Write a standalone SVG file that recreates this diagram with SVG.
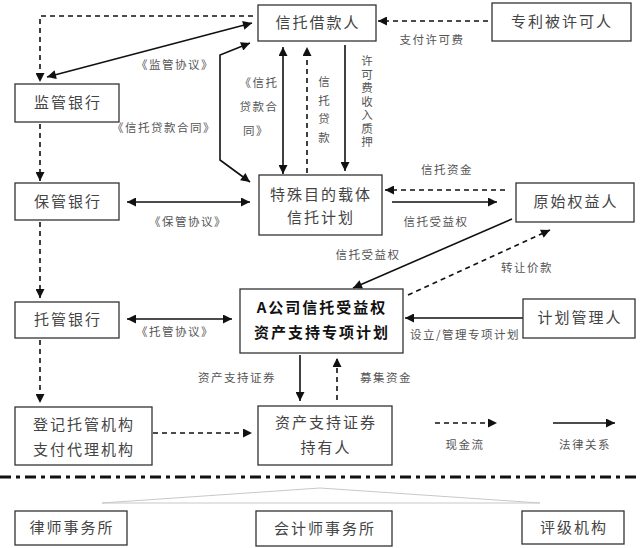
<svg xmlns="http://www.w3.org/2000/svg" width="640" height="548" viewBox="0 0 640 548">
<defs>
<style>
.box{fill:#fff;stroke:#333;stroke-width:1.3}
.t{font-family:"Noto Sans CJK SC","Liberation Sans",sans-serif;font-size:15px;fill:#444;text-anchor:middle;letter-spacing:2px}
.tb{font-family:"Noto Sans CJK SC","Liberation Sans",sans-serif;font-size:15px;fill:#111;font-weight:bold;text-anchor:middle;letter-spacing:2px}
.l{font-family:"Noto Sans CJK SC","Liberation Sans",sans-serif;font-size:11.5px;fill:#555;text-anchor:middle;letter-spacing:1.5px}
.v{font-family:"Noto Sans CJK SC","Liberation Sans",sans-serif;font-size:11.5px;fill:#555;writing-mode:vertical-rl;text-anchor:start}
.s{fill:none;stroke:#111;stroke-width:1.6}
.d{fill:none;stroke:#111;stroke-width:1.6;stroke-dasharray:5 4}
</style>
<marker id="ah" viewBox="0 0 10 10" refX="10" refY="5" markerWidth="10" markerHeight="9" markerUnits="userSpaceOnUse" orient="auto-start-reverse"><path d="M0,0 L10,5 L0,10 z" fill="#111"/></marker>
</defs>
<rect width="640" height="548" fill="#fff"/>

<g id="connectors">
<path class="d" d="M253,16 H40 V82" marker-end="url(#ah)"/>
<line class="s" x1="47" y1="77" x2="252" y2="23" marker-start="url(#ah)" marker-end="url(#ah)"/>
<path class="s" d="M250,43 L220,55 L220,160 L250,182" marker-start="url(#ah)" marker-end="url(#ah)"/>
<line class="s" x1="283" y1="47" x2="283" y2="174" marker-start="url(#ah)" marker-end="url(#ah)"/>
<line class="d" x1="307" y1="173" x2="307" y2="47" marker-end="url(#ah)"/>
<line class="s" x1="345" y1="45" x2="345" y2="171" marker-end="url(#ah)"/>
<line class="d" x1="488" y1="21" x2="378" y2="21" marker-end="url(#ah)"/>
<line class="d" x1="40" y1="124" x2="40" y2="181" marker-end="url(#ah)"/>
<line class="s" x1="127" y1="202" x2="250" y2="202" marker-start="url(#ah)" marker-end="url(#ah)"/>
<line class="d" x1="505" y1="190" x2="385" y2="190" marker-end="url(#ah)"/>
<line class="s" x1="392" y1="202" x2="497" y2="202" marker-end="url(#ah)"/>
<line class="s" x1="512" y1="219" x2="353" y2="288" marker-end="url(#ah)"/>
<line class="d" x1="408" y1="295" x2="550" y2="230" marker-end="url(#ah)"/>
<line class="s" x1="523" y1="318" x2="405" y2="318" marker-end="url(#ah)"/>
<line class="d" x1="40" y1="222" x2="40" y2="298" marker-end="url(#ah)"/>
<line class="s" x1="127" y1="319" x2="232" y2="319" marker-start="url(#ah)" marker-end="url(#ah)"/>
<line class="d" x1="40" y1="340" x2="40" y2="403" marker-end="url(#ah)"/>
<line class="s" x1="300" y1="355" x2="300" y2="401" marker-end="url(#ah)"/>
<line class="d" x1="337" y1="400" x2="337" y2="358" marker-end="url(#ah)"/>
<line class="d" x1="153" y1="433" x2="252" y2="433" marker-end="url(#ah)"/>
<line class="d" x1="435" y1="423" x2="497" y2="423" marker-end="url(#ah)"/>
<line class="s" x1="553" y1="423" x2="615" y2="423" marker-end="url(#ah)"/>
</g>

<g id="labels">
<text class="l" x="175" y="69">《监管协议》</text>
<text class="l" x="164" y="132">《信托贷款合同》</text>
<text class="l" x="259" y="87">《信托</text>
<text class="l" x="259" y="111">贷款合</text>
<text class="l" x="256" y="135">同》</text>
<text class="v" x="324" y="76" style="letter-spacing:7px">信托贷款</text>
<text class="v" x="367" y="55" style="letter-spacing:2px">许可费收入质押</text>
<text class="l" x="432" y="44">支付许可费</text>
<text class="l" x="188" y="226">《保管协议》</text>
<text class="l" x="447" y="174">信托资金</text>
<text class="l" x="436" y="226">信托受益权</text>
<text class="l" x="368" y="259">信托受益权</text>
<text class="l" x="527" y="272">转让价款</text>
<text class="l" x="465" y="339">设立/管理专项计划</text>
<text class="l" x="175" y="336">《托管协议》</text>
<text class="l" x="237" y="382">资产支持证券</text>
<text class="l" x="386" y="382">募集资金</text>
<text class="l" x="465" y="449">现金流</text>
<text class="l" x="585" y="449">法律关系</text>
</g>

<g id="n_jiekuan"><rect class="box" x="258" y="5" width="118" height="36"/><text class="t" x="318" y="28">信托借款人</text></g>
<g id="n_zhuanli"><rect class="box" x="492" y="3" width="139" height="38"/><text class="t" x="562" y="27">专利被许可人</text></g>
<g id="n_jianguan"><rect class="box" x="15" y="84" width="104" height="38"/><text class="t" x="68" y="108">监管银行</text></g>
<g id="n_baoguan"><rect class="box" x="15" y="183" width="104" height="37"/><text class="t" x="68" y="207">保管银行</text></g>
<g id="n_spv"><rect class="box" x="259" y="175" width="123" height="60"/><text class="t" x="321" y="200">特殊目的载体</text><text class="t" x="321" y="223">信托计划</text></g>
<g id="n_yuanshi"><rect class="box" x="516" y="183" width="118" height="39"/><text class="t" x="576" y="207">原始权益人</text></g>
<g id="n_tuoguan"><rect class="box" x="15" y="302" width="104" height="36"/><text class="t" x="68" y="325">托管银行</text></g>
<g id="n_plan"><rect class="box" x="240" y="289" width="163" height="64"/><text class="tb" x="322" y="313">A公司信托受益权</text><text class="tb" x="322" y="338">资产支持专项计划</text></g>
<g id="n_guanli"><rect class="box" x="523" y="299" width="112" height="39"/><text class="t" x="580" y="323">计划管理人</text></g>
<g id="n_dengji"><rect class="box" x="15" y="407" width="137" height="58"/><text class="t" x="84" y="430">登记托管机构</text><text class="t" x="84" y="455">支付代理机构</text></g>
<g id="n_holder"><rect class="box" x="258" y="406" width="134" height="59"/><text class="t" x="326" y="428">资产支持证券</text><text class="t" x="326" y="453">持有人</text></g>

<line x1="0" y1="477" x2="640" y2="477" stroke="#111" stroke-width="3.2" stroke-dasharray="11 5 4 5"/>
<polygon points="102,503 320,488 540,503" fill="none" stroke="#c8c8c8" stroke-width="1"/>

<g id="n_lvshi"><rect class="box" x="15" y="511" width="112" height="34"/><text class="t" x="72" y="533">律师事务所</text></g>
<g id="n_kuaiji"><rect class="box" x="256" y="511" width="136" height="35"/><text class="t" x="325" y="534">会计师事务所</text></g>
<g id="n_pingji"><rect class="box" x="522" y="511" width="102" height="33"/><text class="t" x="574" y="533">评级机构</text></g>
</svg>
